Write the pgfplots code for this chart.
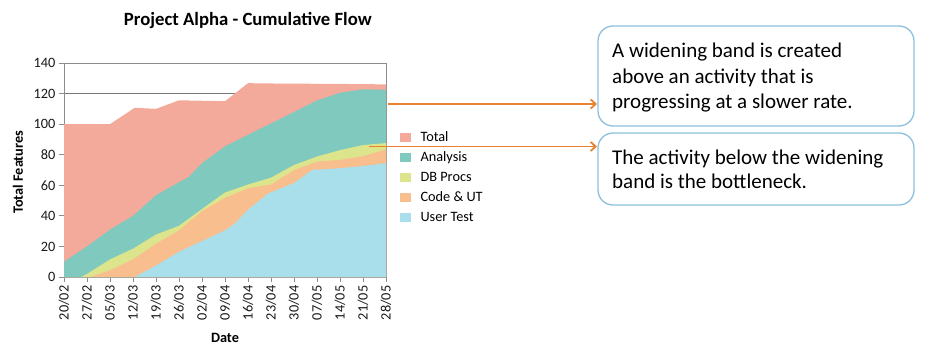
\documentclass[border=0pt]{standalone}
\usepackage{fontspec}
\setmainfont{Carlito}
\usepackage{pgfplots}
\pgfplotsset{compat=1.18}
\usetikzlibrary{arrows.meta}
\definecolor{cTotal}{HTML}{F4AA9B}
\definecolor{cAna}{HTML}{7FC9BE}
\definecolor{cDB}{HTML}{DDE58C}
\definecolor{cCode}{HTML}{F8BE8E}
\definecolor{cUser}{HTML}{A9DFEA}
\definecolor{cBox}{HTML}{8CC0DC}
\definecolor{cArrow}{HTML}{E8822E}
\definecolor{cAxis}{HTML}{8C8C8C}
\newcommand{\tickfont}{\fontsize{14.3bp}{16bp}\selectfont}
\newcommand{\callfont}{\fontsize{21bp}{25bp}\selectfont}
\begin{document}
\begin{tikzpicture}
\useasboundingbox (0,0) rectangle (935bp,-351bp);
\begin{axis}[
  at={(64bp,-277bp)}, anchor=south west,
  scale only axis, width=322bp, height=214bp,
  xmin=0, xmax=98, ymin=0, ymax=140,
  xtick={0,7,...,98},
  xticklabels={20/02,27/02,05/03,12/03,19/03,26/03,02/04,09/04,16/04,23/04,30/04,07/05,14/05,21/05,28/05},
  ytick={0,20,...,140},
  tick align=outside, tick pos=left,
  major tick length=5bp,
  tick style={cAxis, line width=0.8bp},
  axis line style={cAxis, line width=1bp},
  ymajorgrids, grid style={cAxis!85!black, line width=1bp},
  /pgf/number format/assume math mode=true,
  ticklabel style={font=\tickfont, text=black!90},
  xticklabel style={rotate=90, anchor=east},
  title={Project Alpha - Cumulative Flow},
  title style={font=\fontsize{18.7bp}{21bp}\selectfont\bfseries, at={(axis description cs:0.571,1.1495)}, anchor=base},
  xlabel={Date},
  xlabel style={font=\fontsize{14.3bp}{16bp}\selectfont\bfseries, at={(axis description cs:0.5,-0.308)}, anchor=base},
  ylabel={Total Features},
  ylabel style={font=\fontsize{14.3bp}{16bp}\selectfont\bfseries, at={(axis description cs:-0.143,0.49)}, anchor=center},
  legend style={at={(1.043,0.693)}, anchor=north west, draw=none, fill=none,
    font=\fontsize{14.3bp}{16bp}\selectfont, inner sep=0pt, row sep=3bp,
    nodes={inner sep=1.5bp, anchor=west, text height=11bp, text depth=3bp},
    /tikz/column 1/.style={column sep=8bp}},
  legend cell align=left,
  legend image code/.code={\fill[#1] (0bp,-4.5bp) rectangle (11bp,4.5bp);},
]
\addplot[draw=none, fill=cTotal] coordinates {
 (0,100)(7,100)(14,100)(21.5,110.7)(28,110)(35,115.6)(42,115.3)(49,115)
 (56,126.8)(63,126.6)(70,126.5)(77,126.4)(84,126.3)(91,126.2)(98,126)} \closedcycle;
\addlegendentry{Total}
\addplot[draw=none, fill=cAna] coordinates {
 (0,10)(7,20)(14,31)(21,40)(28,53.5)(35,62)(38,65.5)(42,74.5)(49,85.5)
 (56,93)(63,100.5)(70,108)(77,115.5)(84,120.5)(91,122.8)(98,122.5)} \closedcycle;
\addlegendentry{Analysis}
\addplot[draw=none, fill=cDB] coordinates {
 (0,0)(5.2,0)(7,2)(14,11.5)(21,18.5)(28,27.8)(35,33.5)(42,44.5)(49,55.3)
 (56,60.5)(63,65)(70,73.3)(77,78.8)(84,83)(91,86.3)(98,87.6)} \closedcycle;
\addlegendentry{DB Procs}
\addplot[draw=none, fill=cCode] coordinates {
 (0,0)(8,0)(14,4.5)(21,11.5)(28,21.8)(35,30.5)(42,43)(49,51.8)
 (56,58)(63,60.5)(70,70)(77,75.5)(84,76.6)(91,79)(98,83.5)} \closedcycle;
\addlegendentry{Code \& UT}
\addplot[draw=none, fill=cUser] coordinates {
 (0,0)(21.5,0)(28,7.5)(35,16.5)(42,23.5)(49,30.5)(52,35)(56,44)(62,54.5)
 (70,61.5)(75.5,70)(84,71.2)(91,72.6)(98,74.5)} \closedcycle;
\addlegendentry{User Test}
\end{axis}
% callout boxes
\draw[cBox, line width=1.3bp, rounded corners=15bp] (598bp,-26bp) rectangle (914bp,-126bp);
\draw[cBox, line width=1.3bp, rounded corners=15bp] (598bp,-133bp) rectangle (914bp,-205bp);
\node[anchor=base west, font=\callfont, inner sep=0pt] at (612bp,-57.7bp) {A widening band is created};
\node[anchor=base west, font=\callfont, inner sep=0pt] at (612bp,-83.3bp) {above an activity that is};
\node[anchor=base west, font=\callfont, inner sep=0pt] at (612bp,-108.3bp) {progressing at a slower rate.};
\node[anchor=base west, font=\callfont, inner sep=0pt] at (612bp,-164.5bp) {The activity below the widening};
\node[anchor=base west, font=\callfont, inner sep=0pt] at (612bp,-188bp) {band is the bottleneck.};
% arrows
\draw[cArrow, line width=1.8bp, -{Straight Barb[length=5bp, width=9bp]}] (388bp,-104bp) -- (597bp,-104bp);
\draw[cArrow, line width=1.8bp, -{Straight Barb[length=5bp, width=9bp]}] (369bp,-146.5bp) -- (597bp,-146.5bp);
\end{tikzpicture}
\end{document}
